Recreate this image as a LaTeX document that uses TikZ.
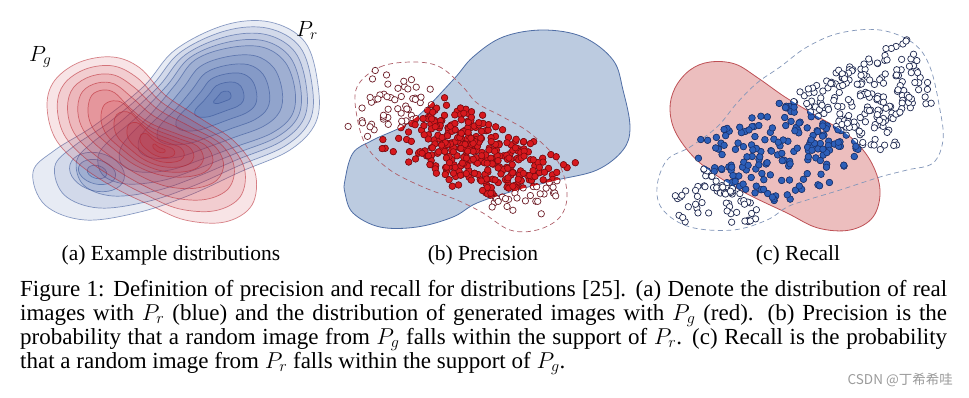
\RequirePackage{fix-cm}
\documentclass[tikz,border=0pt]{standalone}
\usepackage{fontspec}
\setmainfont{Liberation Serif}
\newfontfamily\cjk{Noto Sans CJK SC}
\usetikzlibrary{calc}
\definecolor{blueC}{RGB}{40,80,160}
\definecolor{blueL}{RGB}{50,80,150}
\definecolor{redC}{RGB}{205,40,50}
\definecolor{redL}{RGB}{185,35,45}
\definecolor{blobB}{RGB}{188,203,224}
\definecolor{blobBL}{RGB}{80,110,165}
\definecolor{capC}{RGB}{236,190,190}
\definecolor{capCL}{RGB}{190,80,85}
\definecolor{dashR}{RGB}{175,95,105}
\definecolor{dashB}{RGB}{130,150,185}
\definecolor{ptR}{RGB}{215,25,30}
\definecolor{ptRL}{RGB}{120,10,15}
\definecolor{ptRO}{RGB}{110,30,40}
\definecolor{ptB}{RGB}{45,95,185}
\definecolor{ptBL}{RGB}{25,50,110}
\definecolor{ptBO}{RGB}{30,40,80}
\definecolor{wm}{RGB}{155,155,155}
\tikzset{
  bfill/.style={fill=blueC, fill opacity=0.11, draw=blueL, draw opacity=0.55, line width=0.7pt},
  rfill/.style={fill=redC, fill opacity=0.12, draw=redL, draw opacity=0.55, line width=0.7pt},
  redopen/.style={fill=white, draw=ptRO, line width=0.7pt},
  redfull/.style={fill=ptR, draw=ptRL, line width=0.5pt},
  blueopen/.style={fill=white, draw=ptBO, line width=0.7pt},
  bluefull/.style={fill=ptB, draw=ptBL, line width=0.5pt},
  lbl/.style={inner sep=0pt, font=\fontsize{21.5}{24}\selectfont},
}
\newcommand\contour[4]{%
  \path[#4] plot[smooth cycle, tension=0.6] coordinates {%
   ($(#1-1)!#3!(#2-1)$) ($(#1-2)!#3!(#2-2)$) ($(#1-3)!#3!(#2-3)$) ($(#1-4)!#3!(#2-4)$)
   ($(#1-5)!#3!(#2-5)$) ($(#1-6)!#3!(#2-6)$) ($(#1-7)!#3!(#2-7)$) ($(#1-8)!#3!(#2-8)$)
   ($(#1-9)!#3!(#2-9)$) ($(#1-10)!#3!(#2-10)$) ($(#1-11)!#3!(#2-11)$) ($(#1-12)!#3!(#2-12)$)
   ($(#1-13)!#3!(#2-13)$) ($(#1-14)!#3!(#2-14)$) ($(#1-15)!#3!(#2-15)$) ($(#1-16)!#3!(#2-16)$)};}
\newcommand\blobBpath{plot[smooth cycle, tension=0.6] coordinates {(345,180) (353,153) (373,140) (413,120) (453,80) (473,57) (503,37) (543,30) (583,37) (613,60) (623,90) (630,127) (623,150) (597,170) (557,180) (517,190) (477,203) (453,217) (417,227) (380,227) (353,213) (345,193)}}
\newcommand\capCpath{plot[smooth cycle, tension=0.6] coordinates {(670,110) (675,88) (690,70) (710,62) (735,64) (758,78) (785,97) (815,115) (848,135) (870,160) (880,190) (873,217) (850,230) (818,228) (787,213) (740,190) (700,163) (677,135)}}
% triangular cluster: #1 style, #2 count, #3 cx, #4 cy, #5 major, #6 minor, #7 cos, #8 sin (image coords)
\newcommand\cluster[8]{%
  \foreach \i in {1,...,#2}{%
    \pgfmathsetmacro\ua{rand+rand}%
    \pgfmathsetmacro\ub{rand+rand}%
    \path[#1] ({#3+#5*\ua*#7-#6*\ub*#8},{#4+#5*\ua*#8+#6*\ub*#7}) circle[radius=3.2];
  }}
% uniform cluster, same arguments (half extents)
\newcommand\ucluster[8]{%
  \foreach \i in {1,...,#2}{%
    \pgfmathsetmacro\ua{rand}%
    \pgfmathsetmacro\ub{rand}%
    \path[#1] ({#3+#5*\ua*#7-#6*\ub*#8},{#4+#5*\ua*#8+#6*\ub*#7}) circle[radius=3.2];
  }}
\newcommand\ptsB[1]{%
  \pgfmathsetseed{7}%
  \cluster{#1}{300}{465}{148}{55}{21}{0.891}{0.454}%
  \ucluster{#1}{130}{460}{146}{112}{38}{0.891}{0.454}}
\newcommand\ptsC[1]{%
  \pgfmathsetseed{11}%
  \ucluster{#1}{160}{860}{100}{70}{36}{0.906}{-0.423}%
  \ucluster{#1}{230}{795}{148}{95}{48}{0.906}{-0.423}%
  \ucluster{#1}{40}{705}{195}{40}{18}{0.906}{-0.423}}
\begin{document}
\begin{tikzpicture}[x=1pt,y=-1pt]
\useasboundingbox (0,0) rectangle (969,397);
\fill[white] (0,0) rectangle (969,397);

% ---------- (a) contours ----------
\foreach \x/\y [count=\k] in {33/172,55/150,95/125,143/87,175/50,225/25,270/22,305/42,318/85,316/122,290/150,240/172,190/195,140/212,85/220,45/205}
  \coordinate (bo-\k) at (\x,\y);
\foreach \x/\y [count=\k] in {120/150,130/135,150/115,175/85,195/60,228/48,262/47,285/62,295/90,292/115,272/133,235/147,200/160,170/170,140/172,122/165}
  \coordinate (bm-\k) at (\x,\y);
\coordinate (bc) at (224,96);
\foreach \k in {1,...,16} \coordinate (bi-\k) at ($(bm-\k)!0.9!(bc)$);

\foreach \x/\y [count=\k] in {47/105,55/80,80/62,113/57,140/68,165/95,200/118,235/142,255/172,252/205,225/222,185/220,150/205,115/188,80/165,55/138}
  \coordinate (ro-\k) at (\x,\y);
\foreach \x/\y [count=\k] in {88/108,92/95,103/90,115/93,130/108,150/123,180/135,205/145,213/160,205/172,185/177,160/175,135/165,115/150,98/135,90/122}
  \coordinate (rm-\k) at (\x,\y);
\coordinate (rc) at (160,150);
\foreach \k in {1,...,16} \coordinate (ri-\k) at ($(rm-\k)!0.9!(rc)$);

\foreach \t in {0,0.25,0.5,0.75} {\contour{bo}{bm}{\t}{bfill}}
\foreach \t in {0,0.2,0.4,0.6,0.8,1} {\contour{bm}{bi}{\t}{bfill}}
\path[bfill, rotate around={-15:(97,172)}] (97,172) ellipse[x radius=28, y radius=19];
\path[bfill, rotate around={-15:(97,172)}] (97,172) ellipse[x radius=19, y radius=12];
\path[bfill, rotate around={-15:(97,172)}] (97,172) ellipse[x radius=10, y radius=6.5];

\foreach \t in {0,0.25,0.5,0.75} {\contour{ro}{rm}{\t}{rfill}}
\foreach \t in {0,0.2,0.4,0.6,0.8,1} {\contour{rm}{ri}{\t}{rfill}}

\node[inner sep=0pt, font=\fontsize{22}{22}\selectfont, anchor=base west] (pg) at (29,61) {$P_g$};
\node[inner sep=0pt, font=\fontsize{22}{22}\selectfont, anchor=base west] (pr) at (296,36) {$P_r$};

% ---------- (b) precision ----------
\path[fill=blobB, draw=blobBL, line width=0.8pt] \blobBpath;
\draw[dashR, line width=0.7pt, dash pattern=on 5pt off 3.5pt] plot[smooth cycle, tension=0.6] coordinates {(357,87) (380,67) (413,62) (440,67) (463,87) (477,103) (503,117) (530,133) (557,160) (567,193) (560,217) (537,230) (510,230) (483,213) (457,200) (423,187) (390,170) (367,147) (357,117)};
\ptsB{redopen}
\begin{scope}
  \clip \blobBpath;
  \ptsB{redfull}
\end{scope}

% ---------- (c) recall ----------
\path[fill=capC, draw=capCL, line width=0.8pt] \capCpath;
\draw[dashB, line width=0.7pt, dash pattern=on 5pt off 3.5pt] plot[smooth cycle, tension=0.6] coordinates {(657,187) (667,160) (690,147) (717,127) (737,103) (757,83) (780,67) (807,47) (840,33) (880,30) (913,43) (930,67) (940,110) (943,140) (933,163) (907,170) (880,177) (840,190) (807,200) (787,207) (767,220) (733,230) (690,227) (663,210)};
\ptsC{blueopen}
\begin{scope}
  \clip \capCpath;
  \ptsC{bluefull}
\end{scope}

% ---------- labels ----------
\node[lbl, anchor=base] (la) at (171,260) {(a) Example distributions};
\node[lbl, anchor=base] (lb) at (483,260) {(b) Precision};
\node[lbl, anchor=base] (lc) at (798,260) {(c) Recall};

\node[inner sep=0pt, anchor=north west, text width=927pt, align=justify,
      font=\fontsize{23}{23.9}\selectfont] (cap) at (20,280)
  {Figure 1: Definition of precision and recall for distributions [25]. (a) Denote the distribution of real\linebreak
   images with $P_r$ (blue) and the distribution of generated images with $P_g$ (red). (b) Precision is the\linebreak
   probability that a random image from $P_g$ falls within the support of $P_r$. (c) Recall is the probability\linebreak
   that a random image from $P_r$ falls within the support of $P_g$.};

\node[inner sep=0pt, anchor=east, text=wm, font=\cjk\fontsize{13.5}{14}\selectfont] (wmk) at (953,380) {CSDN @丁希希哇};
\end{tikzpicture}
\end{document}
